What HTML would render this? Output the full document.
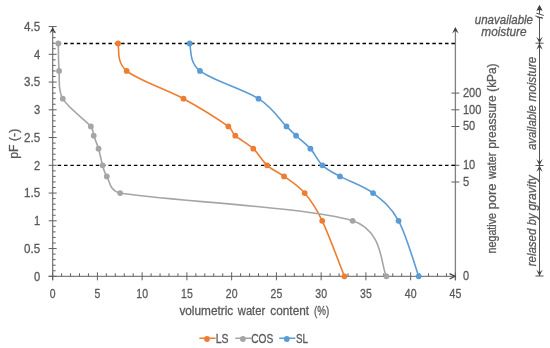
<!DOCTYPE html>
<html><head><meta charset="utf-8"><title>pF curves</title>
<style>html,body{margin:0;padding:0;background:#fff}svg{display:block}text{font-family:"Liberation Sans",sans-serif;fill:#595959;stroke:#595959;stroke-width:0.3px}</style></head><body>
<svg width="550" height="348" viewBox="0 0 550 348">
<rect width="550" height="348" fill="#fff"/>
<g stroke="#808080" stroke-width="1.3" fill="none">
<path d="M52.65 26.5V280.3"/>
<path d="M48.6 276.30H455.4"/>
<path d="M455.4 28V280.3"/>
<path d="M52.65 272.30v8M61.60 276.30v-3M70.55 276.30v-3M79.50 276.30v-3M88.45 276.30v-3M97.40 272.30v8M106.35 276.30v-3M115.30 276.30v-3M124.25 276.30v-3M133.20 276.30v-3M142.15 272.30v8M151.10 276.30v-3M160.05 276.30v-3M169.00 276.30v-3M177.95 276.30v-3M186.90 272.30v8M195.85 276.30v-3M204.80 276.30v-3M213.75 276.30v-3M222.70 276.30v-3M231.65 272.30v8M240.60 276.30v-3M249.55 276.30v-3M258.50 276.30v-3M267.45 276.30v-3M276.40 272.30v8M285.35 276.30v-3M294.30 276.30v-3M303.25 276.30v-3M312.20 276.30v-3M321.15 272.30v8M330.10 276.30v-3M339.05 276.30v-3M348.00 276.30v-3M356.95 276.30v-3M365.90 272.30v8M374.85 276.30v-3M383.80 276.30v-3M392.75 276.30v-3M401.70 276.30v-3M410.65 272.30v8M419.60 276.30v-3M428.55 276.30v-3M437.50 276.30v-3M446.45 276.30v-3M455.40 272.30v8M48.65 276.30h8M52.65 270.75h3M52.65 265.20h3M52.65 259.65h3M52.65 254.10h3M48.65 248.55h8M52.65 243.00h3M52.65 237.45h3M52.65 231.90h3M52.65 226.35h3M48.65 220.80h8M52.65 215.25h3M52.65 209.70h3M52.65 204.15h3M52.65 198.60h3M48.65 193.05h8M52.65 187.50h3M52.65 181.95h3M52.65 176.40h3M52.65 170.85h3M48.65 165.30h8M52.65 159.75h3M52.65 154.20h3M52.65 148.65h3M52.65 143.10h3M48.65 137.55h8M52.65 132.00h3M52.65 126.45h3M52.65 120.90h3M52.65 115.35h3M48.65 109.80h8M52.65 104.25h3M52.65 98.70h3M52.65 93.15h3M52.65 87.60h3M48.65 82.05h8M52.65 76.50h3M52.65 70.95h3M52.65 65.40h3M52.65 59.85h3M48.65 54.30h8M52.65 48.75h3M52.65 43.20h3M52.65 37.65h3M52.65 32.10h3M48.65 26.55h8M451.4 93.09h8M451.4 109.80h8M451.4 126.51h8M451.4 165.30h8M451.4 182.01h8" stroke="#606060" stroke-width="1"/>
</g>
<g fill="#404040" stroke="none">
<path d="M52.65 27l3.3 6.4l-3.3 -2.6l-3.3 2.6z"/>
<path d="M455.4 27l3.3 6.4l-3.3 -2.6l-3.3 2.6z"/>
</g>
<path d="M449.6 273.6l5.4 2.7l-5.4 2.7" fill="none" stroke="#404040" stroke-width="1.2"/>
<g stroke="#000" stroke-width="1.3" stroke-dasharray="3.5 2.851" fill="none">
<path d="M57.65 43.48H455.4"/>
<path d="M57.65 165.30H455.4"/>
</g>
<path d="M118.07 43.48 C119.51 48.06 115.76 61.75 126.67 70.95 C137.57 80.15 166.55 89.45 183.50 98.70 C200.44 107.95 219.70 120.28 228.34 126.45 C233.06 129.82 231.16 132.02 235.32 135.72 C239.48 139.42 248.01 143.72 253.31 148.65 C258.60 153.58 261.96 160.68 267.09 165.30 C272.22 169.93 277.83 171.78 284.10 176.40 C290.36 181.03 298.33 185.65 304.68 193.05 C311.04 200.45 315.60 206.93 322.22 220.80 C328.85 234.68 340.72 267.05 344.42 276.30" fill="none" stroke="#ED7D31" stroke-width="1.6" stroke-linecap="round" stroke-linejoin="round"/>
<g fill="#ED7D31"><circle cx="118.07" cy="43.48" r="2.9"/><circle cx="126.67" cy="70.95" r="2.9"/><circle cx="183.50" cy="98.70" r="2.9"/><circle cx="228.34" cy="126.45" r="2.9"/><circle cx="235.32" cy="135.72" r="2.9"/><circle cx="253.31" cy="148.65" r="2.9"/><circle cx="267.09" cy="165.30" r="2.9"/><circle cx="284.10" cy="176.40" r="2.9"/><circle cx="304.68" cy="193.05" r="2.9"/><circle cx="322.22" cy="220.80" r="2.9"/><circle cx="344.42" cy="276.30" r="2.9"/></g>
<path d="M58.29 43.48 C58.42 48.06 58.35 61.75 59.09 70.95 C59.84 80.15 57.47 89.45 62.76 98.70 C68.06 107.95 85.71 120.28 90.87 126.45 C93.98 130.17 92.45 132.02 93.73 135.72 C95.01 139.42 97.09 143.72 98.56 148.65 C100.04 153.58 101.22 160.68 102.59 165.30 C103.96 169.93 103.87 171.78 106.80 176.40 C109.72 181.03 109.64 191.15 120.13 193.05 C161.11 200.45 308.26 206.93 352.65 220.80 C383.67 230.50 380.85 267.05 386.48 276.30" fill="none" stroke="#A5A5A5" stroke-width="1.6" stroke-linecap="round" stroke-linejoin="round"/>
<g fill="#A5A5A5"><circle cx="58.29" cy="43.48" r="2.9"/><circle cx="59.09" cy="70.95" r="2.9"/><circle cx="62.76" cy="98.70" r="2.9"/><circle cx="90.87" cy="126.45" r="2.9"/><circle cx="93.73" cy="135.72" r="2.9"/><circle cx="98.56" cy="148.65" r="2.9"/><circle cx="102.59" cy="165.30" r="2.9"/><circle cx="106.80" cy="176.40" r="2.9"/><circle cx="120.13" cy="193.05" r="2.9"/><circle cx="352.65" cy="220.80" r="2.9"/><circle cx="386.48" cy="276.30" r="2.9"/></g>
<path d="M189.67 43.48 C191.39 48.06 188.53 61.77 199.97 70.95 C211.44 80.15 244.08 89.45 258.50 98.70 C272.92 107.95 280.25 120.28 286.51 126.45 C291.26 131.13 292.11 132.02 296.09 135.72 C300.07 139.42 306.02 143.72 310.41 148.65 C314.80 153.58 317.48 160.68 322.40 165.30 C327.33 169.93 331.50 171.78 339.94 176.40 C348.39 181.03 363.29 185.65 373.06 193.05 C382.83 200.45 390.96 206.93 398.57 220.80 C406.17 234.68 415.35 267.05 418.70 276.30" fill="none" stroke="#5B9BD5" stroke-width="1.6" stroke-linecap="round" stroke-linejoin="round"/>
<g fill="#5B9BD5"><circle cx="189.67" cy="43.48" r="2.9"/><circle cx="199.97" cy="70.95" r="2.9"/><circle cx="258.50" cy="98.70" r="2.9"/><circle cx="286.51" cy="126.45" r="2.9"/><circle cx="296.09" cy="135.72" r="2.9"/><circle cx="310.41" cy="148.65" r="2.9"/><circle cx="322.40" cy="165.30" r="2.9"/><circle cx="339.94" cy="176.40" r="2.9"/><circle cx="373.06" cy="193.05" r="2.9"/><circle cx="398.57" cy="220.80" r="2.9"/><circle cx="418.70" cy="276.30" r="2.9"/></g>
<text x="34.00" y="280.50" font-size="12.9" text-anchor="start" textLength="6.2" lengthAdjust="spacingAndGlyphs">0</text>
<text x="24.10" y="252.75" font-size="12.9" text-anchor="start" textLength="16.1" lengthAdjust="spacingAndGlyphs">0.5</text>
<text x="34.00" y="225.00" font-size="12.9" text-anchor="start" textLength="6.2" lengthAdjust="spacingAndGlyphs">1</text>
<text x="24.10" y="197.25" font-size="12.9" text-anchor="start" textLength="16.1" lengthAdjust="spacingAndGlyphs">1.5</text>
<text x="34.00" y="169.50" font-size="12.9" text-anchor="start" textLength="6.2" lengthAdjust="spacingAndGlyphs">2</text>
<text x="24.10" y="141.75" font-size="12.9" text-anchor="start" textLength="16.1" lengthAdjust="spacingAndGlyphs">2.5</text>
<text x="34.00" y="114.00" font-size="12.9" text-anchor="start" textLength="6.2" lengthAdjust="spacingAndGlyphs">3</text>
<text x="24.10" y="86.25" font-size="12.9" text-anchor="start" textLength="16.1" lengthAdjust="spacingAndGlyphs">3.5</text>
<text x="34.00" y="58.50" font-size="12.9" text-anchor="start" textLength="6.2" lengthAdjust="spacingAndGlyphs">4</text>
<text x="24.10" y="30.75" font-size="12.9" text-anchor="start" textLength="16.1" lengthAdjust="spacingAndGlyphs">4.5</text>
<text x="49.73" y="297.70" font-size="12.9" text-anchor="start" textLength="5.8" lengthAdjust="spacingAndGlyphs">0</text>
<text x="94.48" y="297.70" font-size="12.9" text-anchor="start" textLength="5.8" lengthAdjust="spacingAndGlyphs">5</text>
<text x="136.30" y="297.70" font-size="12.9" text-anchor="start" textLength="11.7" lengthAdjust="spacingAndGlyphs">10</text>
<text x="181.05" y="297.70" font-size="12.9" text-anchor="start" textLength="11.7" lengthAdjust="spacingAndGlyphs">15</text>
<text x="225.80" y="297.70" font-size="12.9" text-anchor="start" textLength="11.7" lengthAdjust="spacingAndGlyphs">20</text>
<text x="270.55" y="297.70" font-size="12.9" text-anchor="start" textLength="11.7" lengthAdjust="spacingAndGlyphs">25</text>
<text x="315.30" y="297.70" font-size="12.9" text-anchor="start" textLength="11.7" lengthAdjust="spacingAndGlyphs">30</text>
<text x="360.05" y="297.70" font-size="12.9" text-anchor="start" textLength="11.7" lengthAdjust="spacingAndGlyphs">35</text>
<text x="404.80" y="297.70" font-size="12.9" text-anchor="start" textLength="11.7" lengthAdjust="spacingAndGlyphs">40</text>
<text x="449.55" y="297.70" font-size="12.9" text-anchor="start" textLength="11.7" lengthAdjust="spacingAndGlyphs">45</text>
<text x="462.90" y="96.79" font-size="12.9" text-anchor="start" textLength="18.5" lengthAdjust="spacingAndGlyphs">200</text>
<text x="462.90" y="113.50" font-size="12.9" text-anchor="start" textLength="18.5" lengthAdjust="spacingAndGlyphs">100</text>
<text x="462.90" y="130.21" font-size="12.9" text-anchor="start" textLength="12.3" lengthAdjust="spacingAndGlyphs">50</text>
<text x="462.90" y="169.00" font-size="12.9" text-anchor="start" textLength="12.3" lengthAdjust="spacingAndGlyphs">10</text>
<text x="462.90" y="185.71" font-size="12.9" text-anchor="start" textLength="6.2" lengthAdjust="spacingAndGlyphs">5</text>
<text x="462.90" y="280.00" font-size="12.9" text-anchor="start" textLength="6.1" lengthAdjust="spacingAndGlyphs">0</text>
<text x="179.40" y="315.40" font-size="12.9" text-anchor="start" textLength="53.8" lengthAdjust="spacingAndGlyphs">volumetric</text>
<text x="237.80" y="315.40" font-size="12.9" text-anchor="start" textLength="27.4" lengthAdjust="spacingAndGlyphs">water</text>
<text x="270.30" y="315.40" font-size="12.9" text-anchor="start" textLength="38.8" lengthAdjust="spacingAndGlyphs">content</text>
<text x="313.90" y="315.40" font-size="12.9" text-anchor="start" textLength="15.3" lengthAdjust="spacingAndGlyphs">(%)</text>
<text transform="translate(18.1 158.7) rotate(-90)" font-size="12.9" textLength="30" lengthAdjust="spacingAndGlyphs">pF (-)</text>
<text transform="translate(495.6 253.4) rotate(-90)" font-size="12.9" textLength="40.3" lengthAdjust="spacingAndGlyphs">negative</text>
<text transform="translate(495.6 209.5) rotate(-90)" font-size="12.9" textLength="26.1" lengthAdjust="spacingAndGlyphs">pore</text>
<text transform="translate(495.6 178.9) rotate(-90)" font-size="12.9" textLength="26.3" lengthAdjust="spacingAndGlyphs">water</text>
<text transform="translate(495.6 148.7) rotate(-90)" font-size="12.9" textLength="53.5" lengthAdjust="spacingAndGlyphs">preassure</text>
<text transform="translate(495.6 91.8) rotate(-90)" font-size="12.9" textLength="28.2" lengthAdjust="spacingAndGlyphs">(kPa)</text>
<text transform="translate(535.7 150.0) rotate(-90)" font-size="12.9" font-style="italic" textLength="44.9" lengthAdjust="spacingAndGlyphs">available</text>
<text transform="translate(535.7 101.6) rotate(-90)" font-size="12.9" font-style="italic" textLength="45.0" lengthAdjust="spacingAndGlyphs">moisture</text>
<text transform="translate(535.7 266.3) rotate(-90)" font-size="12.9" font-style="italic" textLength="37.6" lengthAdjust="spacingAndGlyphs">relased</text>
<text transform="translate(535.7 225.2) rotate(-90)" font-size="12.9" font-style="italic" textLength="11.6" lengthAdjust="spacingAndGlyphs">by</text>
<text transform="translate(535.7 210.6) rotate(-90)" font-size="12.9" font-style="italic" textLength="35.4" lengthAdjust="spacingAndGlyphs">gravity</text>
<text x="474.8" y="24" font-size="12.9" font-style="italic" textLength="58.2" lengthAdjust="spacingAndGlyphs">unavailable</text>
<text x="481.3" y="35.8" font-size="12.9" font-style="italic" textLength="45.3" lengthAdjust="spacingAndGlyphs">moisture</text>
<g stroke="#404040" stroke-width="0.9" fill="none">
<path d="M539.5 6V14M539.5 17.6V276M537.4 17.6h5M536.3 13.1l7.5 2.4M535.4 15.9l7.6 2.5M535.5 43.2h8M535.5 165.5h8M535.5 276h8"/>
</g>
<g fill="#404040">
<path d="M539.5 4.8l3.1 6l-3.1 -0.9l-3.1 0.9z"/><path d="M539.50 43.20l3.2 -6.5l-3.2 3l-3.2 -3z"/><path d="M539.50 43.20l3.2 6.5l-3.2 -3l-3.2 3z"/><path d="M539.50 165.50l3.2 -6.5l-3.2 3l-3.2 -3z"/><path d="M539.50 165.50l3.2 6.5l-3.2 -3l-3.2 3z"/><path d="M539.50 276.00l3.2 -6.5l-3.2 3l-3.2 -3z"/>
</g>
<path d="M200.00 338.3h15" stroke="#ED7D31" stroke-width="1.6" stroke-linecap="round"/>
<circle cx="207.00" cy="339" r="2.9" fill="#ED7D31"/>
<text x="215.80" y="342.50" font-size="12.9" text-anchor="start" textLength="12.8" lengthAdjust="spacingAndGlyphs">LS</text>
<path d="M235.90 338.3h15" stroke="#A5A5A5" stroke-width="1.6" stroke-linecap="round"/>
<circle cx="242.90" cy="339" r="2.9" fill="#A5A5A5"/>
<text x="251.20" y="342.50" font-size="12.9" text-anchor="start" textLength="22.1" lengthAdjust="spacingAndGlyphs">COS</text>
<path d="M279.80 338.3h15" stroke="#5B9BD5" stroke-width="1.6" stroke-linecap="round"/>
<circle cx="286.80" cy="339" r="2.9" fill="#5B9BD5"/>
<text x="296.00" y="342.50" font-size="12.9" text-anchor="start" textLength="12.0" lengthAdjust="spacingAndGlyphs">SL</text>
</svg></body></html>
